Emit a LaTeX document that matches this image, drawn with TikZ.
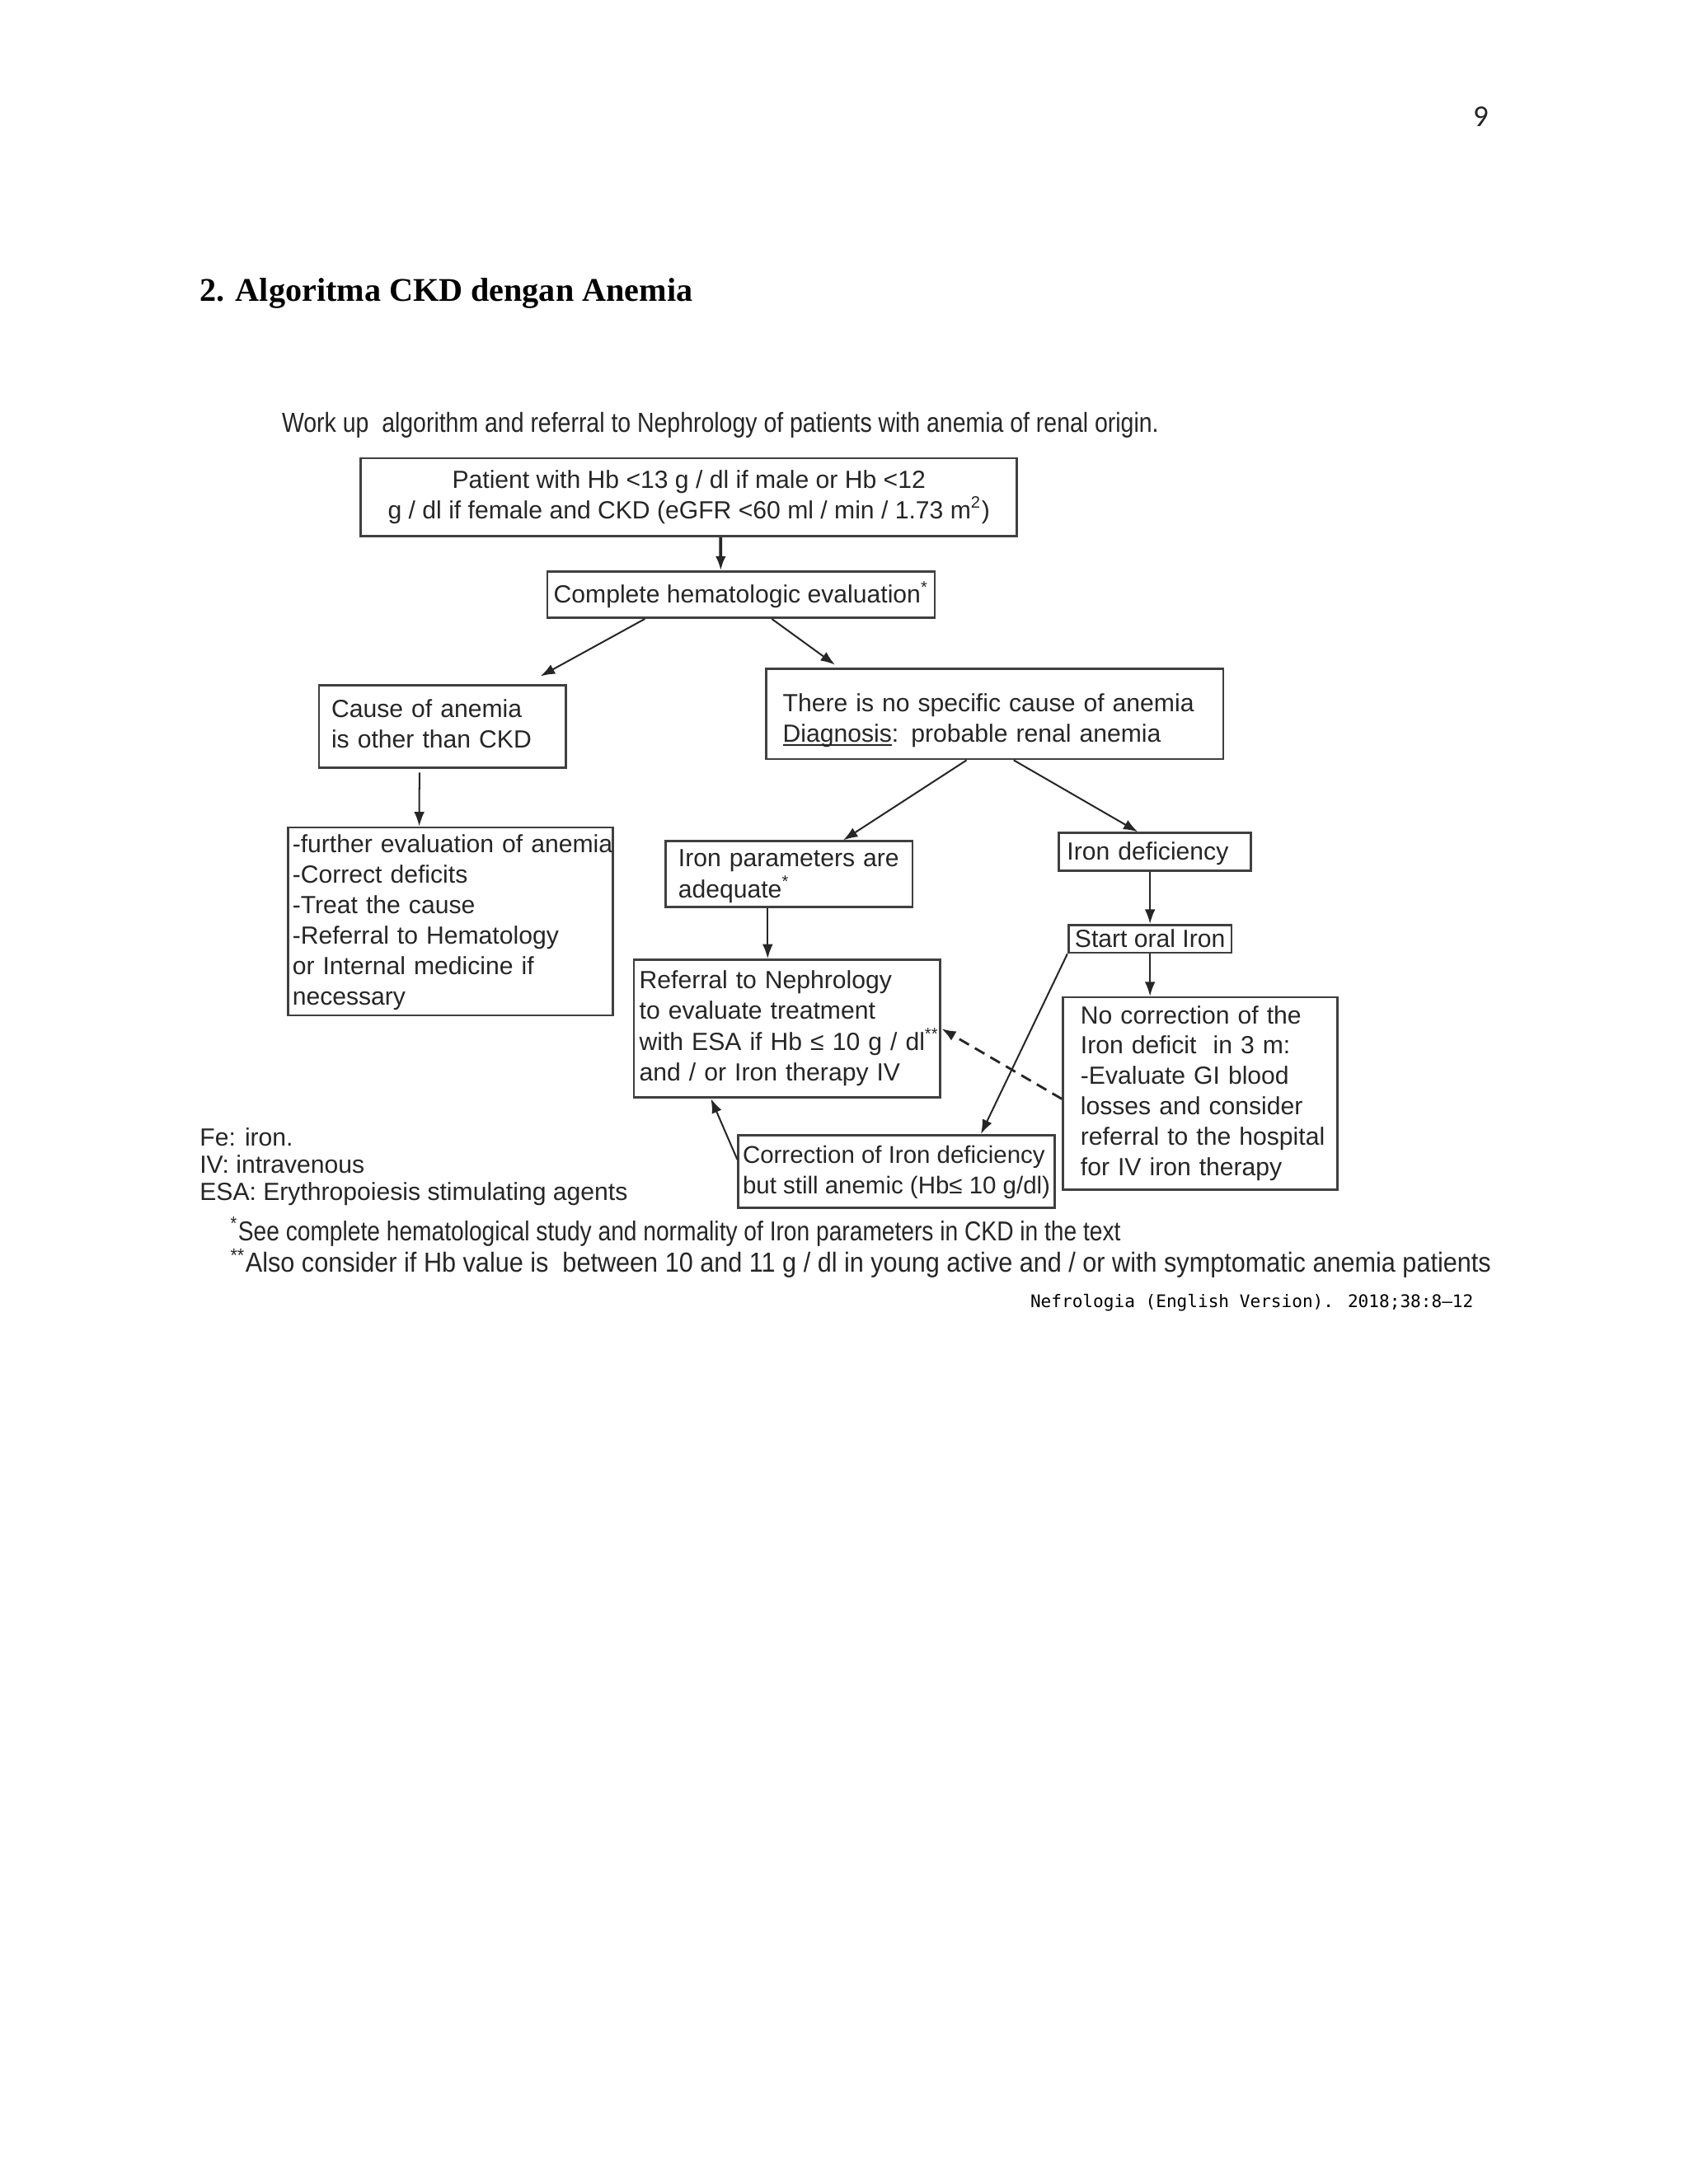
\documentclass[tikz,border=0pt]{standalone}
\usepackage{fontspec}
\setmainfont{Liberation Sans}
\newfontfamily\headfont{Liberation Serif}
\newfontfamily\pagefont{Carlito}
\newfontfamily\citefont{DejaVu Sans Mono}
\newfontfamily\narrowfont[FakeStretch=0.85]{Liberation Sans}
\newfontfamily\halfnarrowfont[FakeStretch=0.915]{Liberation Sans}
\usetikzlibrary{arrows.meta}
% lines of a box, kept as set (no re-breaking); optional extra room above
\newcommand{\boxtext}[2][0pt]{\begin{tabular}{@{}l@{}}\rule{0pt}{\dimexpr7.7pt+#1\relax}#2\end{tabular}}
\newcommand{\undertext}[1]{\setbox0\hbox{#1}\rlap{\rule[-1.3pt]{\wd0}{0.45pt}}\box0}

\begin{document}
\begin{tikzpicture}[x=0.50495pt, y=-0.50495pt, >={Latex[length=5.2pt,width=3.8pt]},
  font=\fontsize{9}{11}\selectfont, text=black!85,
  box/.style={draw=black!75, line width=0.8pt, inner ysep=0pt, align=left},
  arr/.style={->, draw=black!85, line width=0.6pt},
  txt/.style={inner sep=0pt, anchor=base west}]
  \path[fill=white, use as bounding box] (0,0) rectangle (1212,1568);

  % page head
  \node[txt, anchor=base, font=\pagefont\fontsize{11}{13}\selectfont] (pagenum) at (1063,91) {9};
  \node[txt, font=\headfont\bfseries\fontsize{12}{14}\selectfont, text=black] (heading) at (143,216) {2. Algoritma CKD dengan Anemia};
  \node[txt, font=\narrowfont\fontsize{10}{12}\selectfont] (caption) at (202,310.5) {Work up~ algorithm and referral to Nephrology of patients with anemia of renal origin.};

  % boxes
  \node[box, minimum width=237.8pt, minimum height=28.3pt, align=center] (patient) at (494.5,357)
    {Patient with Hb <13 g / dl if male or Hb <12\\ g / dl if female and CKD (eGFR <60 ml / min / 1.73 m\textsuperscript{2})};
  \node[box, minimum width=140.4pt, minimum height=16.7pt, inner xsep=0pt] (hemeval) at (532,427)
    {Complete hematologic evaluation\textsuperscript{*}};
  \node[box, minimum width=89.4pt, minimum height=29.8pt, inner xsep=4.5pt, text width=80.4pt] (other) at (317.5,521.5)
    {\boxtext{Cause of anemia\\ is other than CKD}};
  \node[box, minimum width=165.6pt, minimum height=32.8pt, inner xsep=6pt, text width=153.6pt] (renal) at (714,512.5)
    {\boxtext[5pt]{There is no specific cause of anemia\\ \undertext{Diagnosis}: probable renal anemia}};
  \node[box, minimum width=117.7pt, minimum height=68.2pt, inner xsep=1.5pt, text width=114.7pt] (further) at (323.5,661.5)
    {\boxtext[1pt]{-further evaluation of anemia\\ -Correct deficits\\ -Treat the cause\\ -Referral to Hematology\\ or Internal medicine if\\ necessary}};
  \node[box, minimum width=89.4pt, minimum height=23.7pt, inner xsep=4.5pt, text width=80.4pt] (adequate) at (566.5,627.5)
    {\boxtext[1.5pt]{Iron parameters are\\ adequate\textsuperscript{*}}};
  \node[box, minimum width=69.7pt, minimum height=13.6pt, inner xsep=3pt, text width=63.7pt] (irondef) at (829,611.5)
    {\boxtext[1.5pt]{Iron deficiency}};
  \node[box, minimum width=59.1pt, minimum height=10.1pt, inner xsep=0pt] (oraliron) at (825.5,674)
    {Start oral Iron};
  \node[box, minimum width=111.1pt, minimum height=50pt, inner xsep=2pt, text width=107.1pt] (nephro) at (565,738.5)
    {\boxtext{Referral to Nephrology\\ to evaluate treatment\\ with ESA if Hb ≤ 10 g / dl\textsuperscript{**}\\ and / or Iron therapy IV}};
  \node[box, minimum width=99.5pt, minimum height=69.7pt, inner xsep=6.4pt, text width=86.7pt] (nocorr) at (861.5,785)
    {\boxtext{No correction of the\\ Iron deficit~ in 3 m:\\ -Evaluate GI blood\\ losses and consider\\ referral to the hospital\\ for IV iron therapy}};
  \node[box, minimum width=114.6pt, minimum height=26.3pt, inner xsep=0pt, font=\fontsize{8.8}{11}\selectfont] (corr) at (643.5,841)
    {\boxtext[1pt]{Correction of Iron deficiency\\ but still anemic (Hb≤ 10 g/dl)}};

  % connectors
  \draw[arr, line width=1.1pt] ([xshift=11.5pt]patient.south) -- ([xshift=-7.4pt]hemeval.north);
  \draw[arr] ([xshift=-34.9pt]hemeval.south) -- ([xshift=35.6pt,yshift=2.9pt]other.north);
  \draw[arr] ([xshift=11.1pt]hemeval.south) -- ([xshift=-57.9pt,yshift=1pt]renal.north);
  \draw[arr] ([xshift=-8.3pt,yshift=-1.4pt]other.south) -- ([xshift=-11.4pt]further.north);
  \draw[arr] ([xshift=-10.2pt]renal.south) -- ([xshift=19.6pt]adequate.north);
  \draw[arr] ([xshift=6.9pt]renal.south) -- ([xshift=-6.2pt]irondef.north);
  \draw[arr] (irondef.south -| oraliron.north) -- (oraliron.north);
  \draw[arr] ([xshift=-7.8pt]adequate.south) -- ([xshift=-7.8pt]adequate.south |- nephro.north);
  \draw[arr] (oraliron.south) -- (oraliron.south |- nocorr.north);
  \draw[arr] (oraliron.south west) -- ([xshift=30.6pt]corr.north);
  \draw[arr, dash pattern=on 4pt off 2.5pt, line width=0.85pt] ([yshift=-2pt]nocorr.west) -- (nephro.east);
  \draw[arr] ([yshift=4.3pt]corr.west) -- ([xshift=-27.6pt]nephro.south);

  % legend and notes
  \node[txt] (fe) at (143,823) {Fe: iron.};
  \node[txt] (iv) at (143,842.5) {IV: intravenous};
  \node[txt] (esa) at (143,862) {ESA: Erythropoiesis stimulating agents};
  \node[txt, font=\narrowfont\fontsize{9.9}{12}\selectfont] (note1) at (165,890.5)
    {\textsuperscript{*}See complete hematological study and normality of Iron parameters in CKD in the text};
  \node[txt, font=\halfnarrowfont\fontsize{10}{12}\selectfont] (note2) at (165,913.3)
    {\textsuperscript{**}Also consider if Hb value is~ between 10 and 11 g / dl in young active and / or with symptomatic anemia patients};
  \node[txt, anchor=base east, font=\citefont\fontsize{6.3}{8}\selectfont, text=black] (cite) at (1058,939)
    {Nefrologia (English Version). 2018;38:8–12};
\end{tikzpicture}
\end{document}
